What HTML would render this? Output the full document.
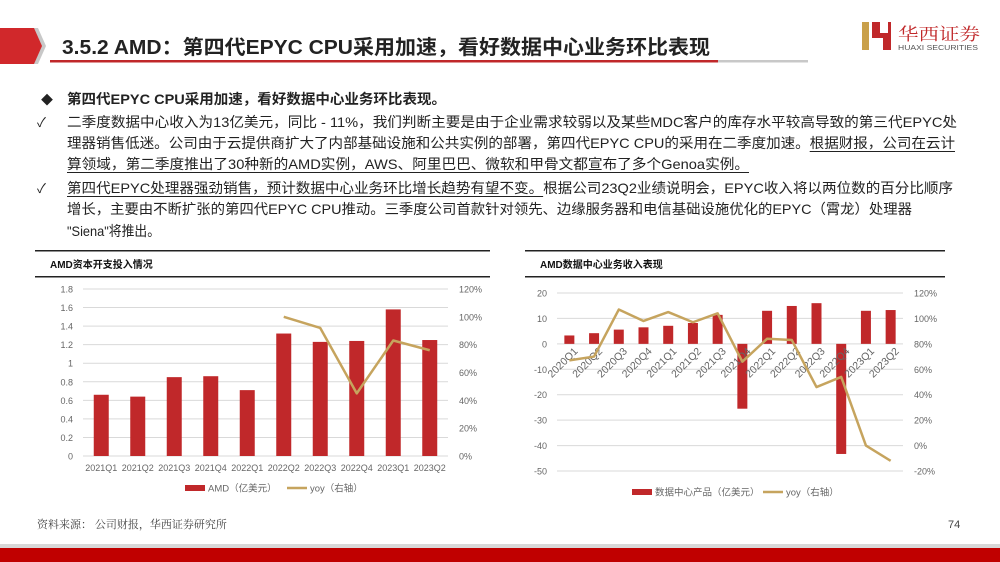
<!DOCTYPE html>
<html><head><meta charset="utf-8"><style>
body{margin:0;background:#fff}
svg{display:block;font-family:"Liberation Sans","Noto Sans CJK SC",sans-serif}
</style></head><body>
<svg id="page" width="1000" height="562" viewBox="0 0 1000 562">
<polygon points="0,28 38,28 46,46 38,64 0,64" fill="#c8c8c8"/>
<polygon points="0,28 34,28 42,46 34,64 0,64" fill="#d1282b"/>
<text x="62" y="54" font-size="20" font-weight="bold" fill="#222" textLength="648" lengthAdjust="spacingAndGlyphs">3.5.2 AMD：第四代EPYC CPU采用加速，看好数据中心业务环比表现</text>
<rect x="50" y="60" width="668" height="2.5" fill="#c0282a"/>
<rect x="718" y="60" width="90" height="2.5" fill="#c8c8c8"/>
<g>
<rect x="862" y="22" width="7" height="28" fill="#c9a04a"/>
<polygon points="872,22 880,22 880,33 888,33 888,22 891,22 891,50 883,50 883,38 872,38" fill="#c0282a"/>
<text x="898" y="40" font-size="17" fill="#c0282a" font-family="Noto Serif CJK SC,serif" textLength="82" lengthAdjust="spacingAndGlyphs">华西证券</text>
<text x="898" y="50" font-size="7" fill="#555" textLength="80" lengthAdjust="spacingAndGlyphs">HUAXI SECURITIES</text>
</g>
<g font-size="14" fill="#222">
<text x="41" y="104" font-size="12">◆</text>
<text x="67" y="104" font-weight="bold" textLength="379" lengthAdjust="spacingAndGlyphs">第四代EPYC CPU采用加速，看好数据中心业务环比表现。</text>
<text x="37" y="127" font-size="13">✓</text>
<text x="67" y="127" textLength="890" lengthAdjust="spacingAndGlyphs">二季度数据中心收入为13亿美元，同比 - 11%，我们判断主要是由于企业需求较弱以及某些MDC客户的库存水平较高导致的第三代EPYC处</text>
<text id="l3" x="67" y="148" textLength="888" lengthAdjust="spacingAndGlyphs">理器销售低迷。公司由于云提供商扩大了内部基础设施和公共实例的部署，第四代EPYC CPU的采用在二季度加速。根据财报，公司在云计</text>
<text x="67" y="169" textLength="682" lengthAdjust="spacingAndGlyphs">算领域，第二季度推出了30种新的AMD实例，AWS、阿里巴巴、微软和甲骨文都宣布了多个Genoa实例。</text>
<rect id="u3" x="800" y="151" width="155" height="1" fill="#222"/>
<rect x="67" y="172" width="682" height="1" fill="#222"/>
<text x="37" y="193" font-size="13">✓</text>
<text id="l5" x="67" y="193" textLength="886" lengthAdjust="spacingAndGlyphs">第四代EPYC处理器强劲销售，预计数据中心业务环比增长趋势有望不变。根据公司23Q2业绩说明会，EPYC收入将以两位数的百分比顺序</text>
<rect id="u5" x="67" y="196" width="410" height="1" fill="#222"/>
<text x="67" y="214" textLength="845" lengthAdjust="spacingAndGlyphs">增长，主要由不断扩张的第四代EPYC CPU推动。三季度公司首款针对领先、边缘服务器和电信基础设施优化的EPYC（霄龙）处理器</text>
<text x="67" y="236" textLength="93" lengthAdjust="spacingAndGlyphs">"Siena"将推出。</text>
</g>
<rect x="35" y="250" width="455" height="1.5" fill="#222"/>
<rect x="35" y="276" width="455" height="1.5" fill="#222"/>
<text x="50" y="268" font-size="10" font-weight="bold" fill="#111">AMD资本开支投入情况</text>
<rect x="525" y="250" width="420" height="1.5" fill="#222"/>
<rect x="525" y="276" width="420" height="1.5" fill="#222"/>
<text x="540" y="268" font-size="10" font-weight="bold" fill="#111">AMD数据中心业务收入表现</text>
<g id="c1"></g>
<g id="c2"></g>
<text x="37" y="528" font-size="11" fill="#444" font-family="Noto Serif CJK SC,serif">资料来源：  公司财报，华西证券研究所</text>
<text x="948" y="528" font-size="11" fill="#444">74</text>
<rect x="0" y="544" width="1000" height="4" fill="#d8d8d8"/>
<rect x="0" y="548" width="1000" height="14" fill="#c00000"/>
</svg>
<script>
const c1Cats=["2021Q1","2021Q2","2021Q3","2021Q4","2022Q1","2022Q2","2022Q3","2022Q4","2023Q1","2023Q2"];
const c1Bars=[0.66,0.64,0.85,0.86,0.71,1.32,1.23,1.24,1.58,1.25];
const c1Yoy=[null,null,null,null,null,100,92,45,83,76];
const c1LeftTicks=[0,0.2,0.4,0.6,0.8,1,1.2,1.4,1.6,1.8];
const c1RightTicks=[0,20,40,60,80,100,120];

const c2Cats=["2020Q1","2020Q2","2020Q3","2020Q4","2021Q1","2021Q2","2021Q3","2021Q4","2022Q1","2022Q2","2022Q3","2022Q4","2023Q1","2023Q2"];
const c2Bars=[3.3,4.2,5.6,6.5,7.1,8.2,11.4,-25.5,13,14.9,16,-43.3,13,13.3];
const c2Yoy=[67,70,107,98,105,97,104,66,84,83,46,54,0,-12];
const c2LeftTicks=[20,10,0,-10,-20,-30,-40,-50];
const c2RightTicks=[120,100,80,60,40,20,0,-20];

const NS="http://www.w3.org/2000/svg";
function mk(p,tag,a,txt){const e=document.createElementNS(NS,tag);for(const k in a)e.setAttribute(k,a[k]);if(txt!=null)e.textContent=txt;p.appendChild(e);return e;}
const BAR="#c0282a",LINE="#c6a45e",TXT="#666";

try{
  const l3=document.getElementById("l3"),s3=l3.textContent.indexOf("根据财报");
  const x3=67+l3.getSubStringLength(0,s3);
  const u3=document.getElementById("u3");u3.setAttribute("x",x3);u3.setAttribute("width",955-x3);
  const l5=document.getElementById("l5"),s5=l5.textContent.indexOf("根据公司");
  document.getElementById("u5").setAttribute("width",l5.getSubStringLength(0,s5));
}catch(e){}

function drawChart(g,o){
  const yL=v=>o.y0+(v-o.lmin)/(o.lmax-o.lmin)*(o.y1-o.y0);
  const yR=v=>o.y0+(v-o.rmin)/(o.rmax-o.rmin)*(o.y1-o.y0);
  const step=(o.x1-o.x0)/o.cats.length;
  const xC=i=>o.x0+step*(i+0.5);
  o.lt.forEach(t=>{
    const gl=mk(g,"line",{x1:o.x0,x2:o.x1,y1:yL(t),y2:yL(t),stroke:"#d9d9d9","stroke-width":1});
    
    
    const tl=mk(g,"text",{x:o.x0-10,y:yL(t)+3.5,"font-size":9,fill:TXT,"text-anchor":"end"},String(t));
    
    
  });
  o.rt.forEach(t=>{
    const tl=mk(g,"text",{x:o.x1+11,y:yR(t)+3.5,"font-size":9,fill:TXT},t+"%");
    
    
  });
  o.bars.forEach((v,i)=>{
    const a=yL(0),b=yL(v);
    const r=mk(g,"rect",{x:xC(i)-o.bw/2,y:Math.min(a,b),width:o.bw,height:Math.abs(a-b),fill:BAR});
    
    
  });
  o.cats.forEach((c,i)=>{
    let t;
    if(o.rot){t=mk(g,"text",{x:0,y:0,"font-size":10.5,fill:TXT,"text-anchor":"end",transform:`translate(${xC(i)+9},${yL(0)+8}) rotate(-45)`},c);}
    else{t=mk(g,"text",{x:xC(i),y:o.y0+15,"font-size":9,fill:TXT,"text-anchor":"middle"},c);}
    
    
  });
  let d="";o.yoy.forEach((v,i)=>{if(v==null)return;d+=(d?"L":"M")+xC(i)+","+yR(v);});
  const p=mk(g,"path",{d:d,fill:"none",stroke:LINE,"stroke-width":2.5,"stroke-linejoin":"round"});
  
  
  const lr=mk(g,"rect",{x:o.lx,y:o.ly-3,width:20,height:6,fill:BAR});
  
  
  const lt=mk(g,"text",{x:o.lx+23,y:o.ly+3.5,"font-size":9.5,fill:TXT},o.l1);
  
  
  const ll=mk(g,"line",{x1:o.lx2,x2:o.lx2+20,y1:o.ly,y2:o.ly,stroke:LINE,"stroke-width":2.5});
  
  
  const lt2=mk(g,"text",{x:o.lx2+23,y:o.ly+3.5,"font-size":9.5,fill:TXT},"yoy（右轴）");
  
  
}
drawChart(document.getElementById("c1"),{cats:c1Cats,bars:c1Bars,yoy:c1Yoy,lt:c1LeftTicks,rt:c1RightTicks,
  x0:83,x1:448,y0:456,y1:289,lmin:0,lmax:1.8,rmin:0,rmax:120,bw:15,rot:false,
  lx:185,ly:488,lx2:287,l1:"AMD（亿美元）"});
drawChart(document.getElementById("c2"),{cats:c2Cats,bars:c2Bars,yoy:c2Yoy,lt:c2LeftTicks,rt:c2RightTicks,
  x0:557,x1:903,y0:471,y1:293,lmin:-50,lmax:20,rmin:-20,rmax:120,bw:10,rot:true,
  lx:632,ly:492,lx2:763,l1:"数据中心产品（亿美元）"});
</script>
</body></html>
